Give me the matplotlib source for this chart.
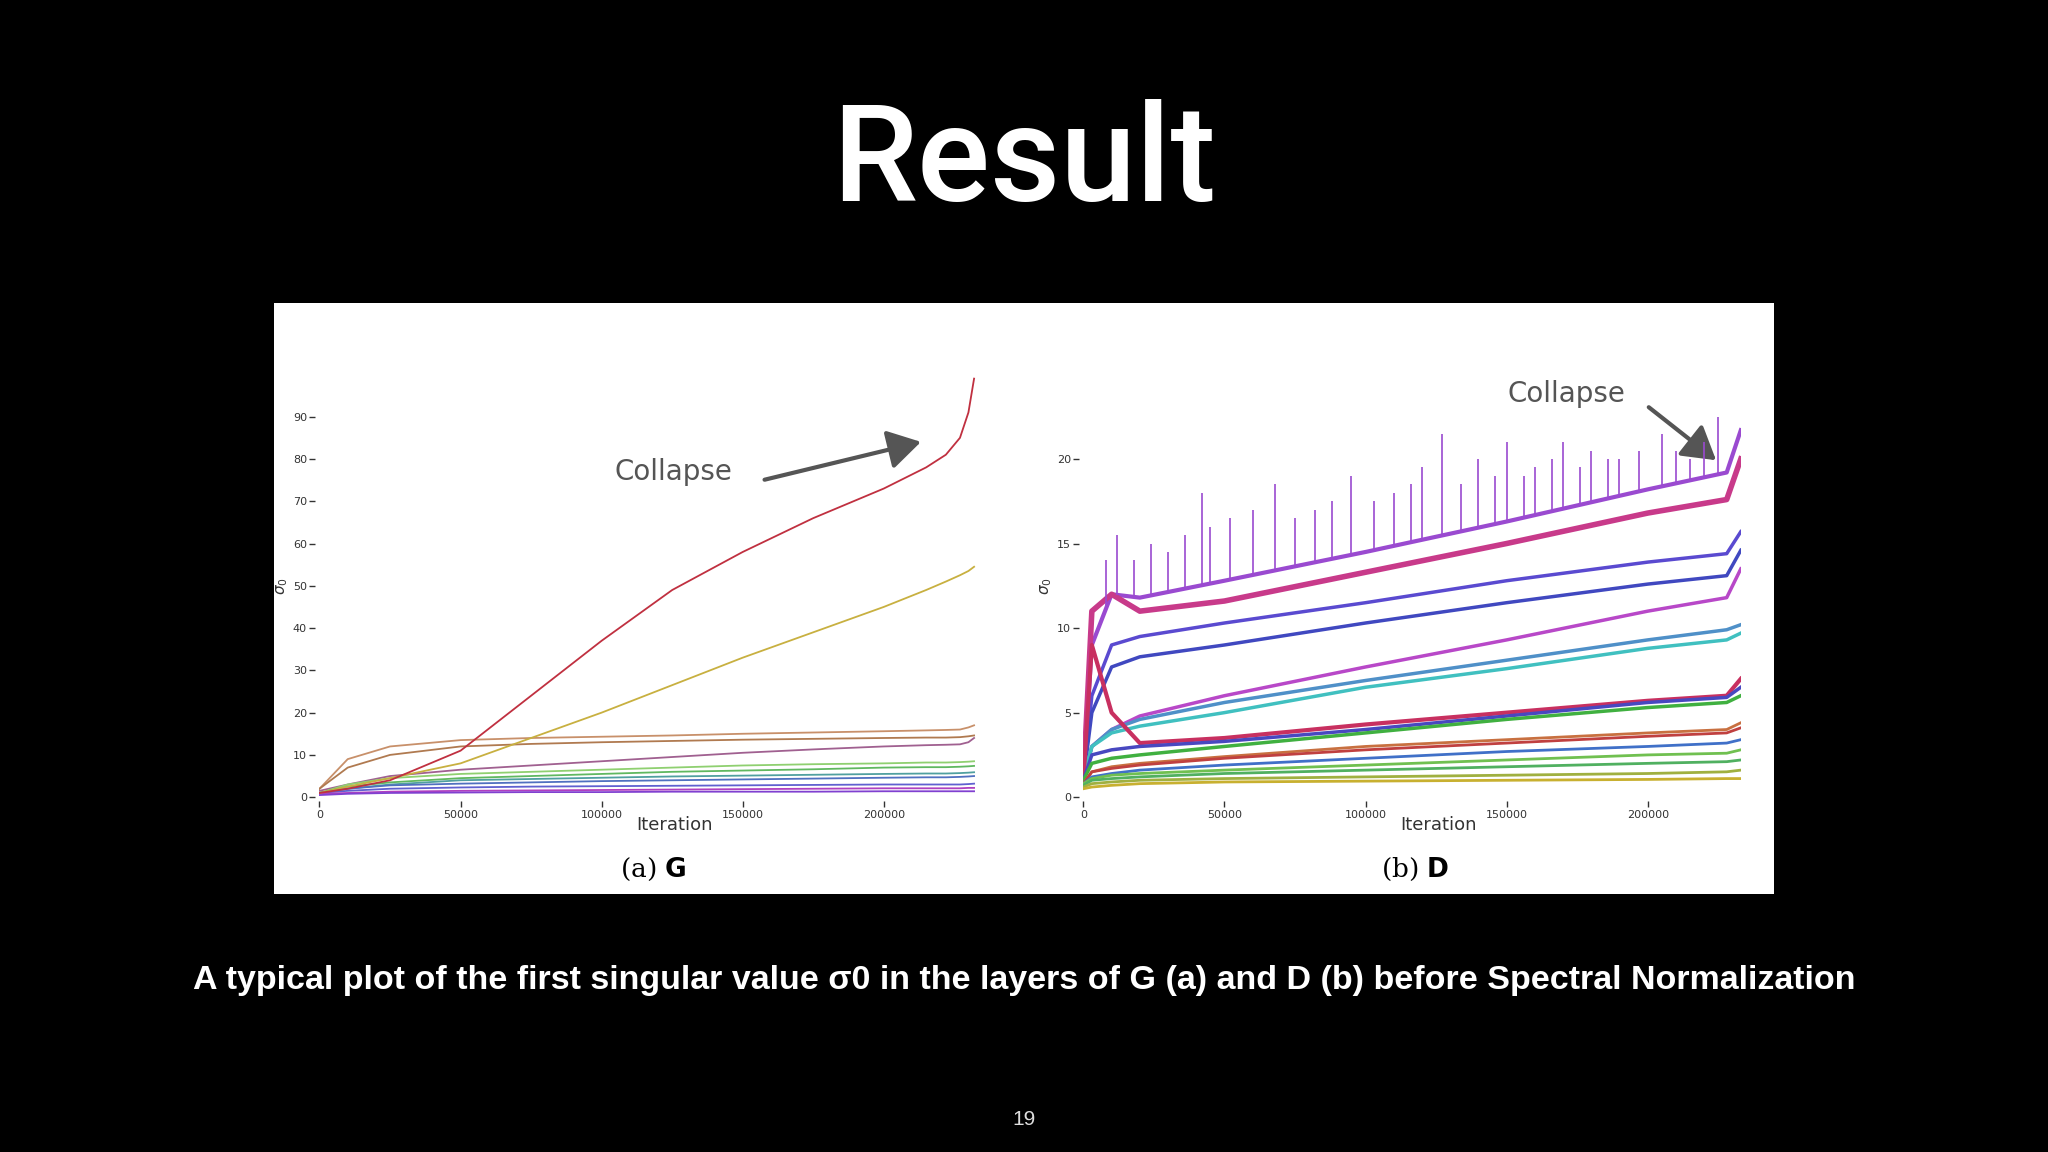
import matplotlib
matplotlib.use("Agg")
import matplotlib.pyplot as plt
import numpy as np
from matplotlib.patches import Rectangle, FancyArrowPatch

# ---------------- data ----------------
g_iter = [0, 10000, 25000, 50000, 75000, 100000, 125000, 150000, 175000, 200000, 215000, 222000, 227000, 230000, 232000]
g_red = [1, 2, 4, 11, 24, 37, 49, 58, 66, 73, 78, 81, 85, 91, 99]
g_olive = [1, 2.5, 4.5, 8, 14, 20, 26.5, 33, 39, 45, 49, 51, 52.5, 53.5, 54.5]
g_others = {
    "#c8906a": [2, 9, 12, 13.5, 14, 14.3, 14.6, 15, 15.3, 15.6, 15.8, 15.9, 16, 16.5, 17],
    "#b07a50": [2, 7, 10, 12, 12.6, 13, 13.3, 13.6, 13.8, 14, 14.1, 14.1, 14.2, 14.4, 14.6],
    "#a06090": [1.5, 3, 5, 6.5, 7.5, 8.5, 9.5, 10.5, 11.3, 12, 12.3, 12.4, 12.5, 13, 14],
    "#8fd070": [1, 3, 4.5, 5.5, 6, 6.5, 7, 7.5, 7.8, 8, 8.2, 8.2, 8.3, 8.4, 8.5],
    "#60b860": [1, 2.5, 3.5, 4.5, 5, 5.5, 6, 6.3, 6.6, 7, 7.1, 7.1, 7.2, 7.3, 7.4],
    "#50a0a0": [1, 2, 3, 4, 4.3, 4.6, 4.9, 5.1, 5.3, 5.5, 5.6, 5.6, 5.7, 5.8, 5.9],
    "#5070c0": [1, 2, 2.8, 3.2, 3.5, 3.8, 4, 4.2, 4.4, 4.6, 4.7, 4.7, 4.8, 4.9, 5],
    "#6060d0": [1, 1.5, 2, 2.3, 2.5, 2.6, 2.7, 2.8, 2.9, 3, 3, 3, 3, 3.1, 3.2],
    "#b040c0": [0.8, 1, 1.3, 1.5, 1.6, 1.7, 1.8, 1.9, 2, 2.1, 2.1, 2.1, 2.1, 2.2, 2.2],
    "#8040d0": [0.5, 0.8, 1, 1.1, 1.2, 1.2, 1.3, 1.3, 1.3, 1.4, 1.4, 1.4, 1.4, 1.4, 1.4],
}

d_iter = [0, 3000, 10000, 20000, 50000, 100000, 150000, 200000, 228000, 233000]
d_series = [
    ("#9a4ad0", 3.0, [1, 9, 12, 11.8, 12.8, 14.5, 16.3, 18.2, 19.2, 21.7]),
    ("#c83a8a", 4.0, [1, 11, 12, 11, 11.6, 13.3, 15, 16.8, 17.6, 20]),
    ("#5a4ad0", 2.5, [1, 6, 9, 9.5, 10.3, 11.5, 12.8, 13.9, 14.4, 15.7]),
    ("#4048c0", 2.5, [1, 5, 7.7, 8.3, 9, 10.3, 11.5, 12.6, 13.1, 14.6]),
    ("#b848c8", 2.5, [1, 3, 4, 4.8, 6, 7.7, 9.3, 11, 11.8, 13.5]),
    ("#4f90c8", 2.5, [1, 3, 4, 4.6, 5.6, 6.9, 8.1, 9.3, 9.9, 10.2]),
    ("#40c0c0", 2.5, [1, 3, 3.8, 4.2, 5, 6.5, 7.6, 8.8, 9.3, 9.7]),
    ("#c83060", 3.0, [1, 9, 5, 3.2, 3.5, 4.3, 5.0, 5.7, 6.0, 7.0]),
    ("#4848c0", 2.5, [1, 2.5, 2.8, 3, 3.3, 4.0, 4.8, 5.6, 5.9, 6.5]),
    ("#40b040", 2.5, [1, 2, 2.3, 2.5, 3.0, 3.8, 4.6, 5.3, 5.6, 6.0]),
    ("#c87040", 2.0, [0.8, 1.5, 1.8, 2, 2.4, 3.0, 3.4, 3.8, 4.0, 4.4]),
    ("#c04040", 2.0, [0.8, 1.5, 1.7, 1.9, 2.3, 2.8, 3.2, 3.6, 3.8, 4.1]),
    ("#4070c8", 2.0, [0.8, 1.2, 1.4, 1.6, 1.9, 2.3, 2.7, 3.0, 3.2, 3.4]),
    ("#70c050", 2.0, [0.8, 1.1, 1.3, 1.4, 1.6, 1.9, 2.2, 2.5, 2.6, 2.8]),
    ("#50b060", 2.0, [0.7, 1.0, 1.1, 1.2, 1.4, 1.6, 1.8, 2.0, 2.1, 2.2]),
    ("#a0b040", 2.0, [0.6, 0.8, 0.9, 1.0, 1.1, 1.2, 1.3, 1.4, 1.5, 1.6]),
    ("#c8b030", 2.0, [0.5, 0.6, 0.7, 0.8, 0.9, 0.95, 1.0, 1.05, 1.1, 1.1]),
]
spike_x = [8000, 12000, 18000, 24000, 30000, 36000, 42000, 45000, 52000, 60000, 68000, 75000, 82000,
           88000, 95000, 103000, 110000, 116000, 120000, 127000, 134000, 140000, 146000, 150000,
           156000, 160000, 166000, 170000, 176000, 180000, 186000, 190000, 197000, 205000, 210000,
           215000, 220000, 225000]
spike_h = [14, 15.5, 14, 15, 14.5, 15.5, 18, 16, 16.5, 17, 18.5, 16.5, 17, 17.5, 19, 17.5, 18,
           18.5, 19.5, 21.5, 18.5, 20, 19, 21, 19, 19.5, 20, 21, 19.5, 20.5, 20, 20, 20.5, 21.5,
           20.5, 20, 21, 22.5]

x_ticks = [0, 50000, 100000, 150000, 200000]

# ---------------- figure ----------------
fig = plt.figure(figsize=(20.48, 11.52), dpi=100, facecolor="black")
fig.patches.append(Rectangle((0.134, 0.224), 0.732, 0.513, transform=fig.transFigure,
                             facecolor="white", edgecolor="none", zorder=-5))

fig.text(0.5, 0.858, "Result", color="white", fontsize=98, ha="center", va="center",
         family=["Roboto", "Liberation Sans"], fontweight="medium")

def style(ax, ymax, yticks):
    ax.set_zorder(2)
    ax.patch.set_alpha(0)
    ax.set_xlim(0, 233000)
    ax.set_ylim(0, ymax)
    ax.set_xticks(x_ticks)
    ax.set_xticklabels([str(t) for t in x_ticks])
    ax.set_yticks(yticks)
    for s in ["top", "right"]:
        ax.spines[s].set_visible(False)
    ax.spines["left"].set_position(("outward", 3))
    ax.spines["bottom"].set_position(("outward", 3))
    ax.spines["left"].set_bounds(0, 0)
    ax.spines["bottom"].set_bounds(0, 0)
    ax.tick_params(labelsize=8, length=4, width=1, pad=2, color="#333333", labelcolor="#333333")
    ax.set_xlabel("Iteration", fontsize=13, color="#333333")
    ax.xaxis.set_label_coords(0.54, -0.045)
    ax.set_ylabel(r"$\sigma_0$", fontsize=11, color="#333333", labelpad=2)

axG = fig.add_axes([0.156, 0.308, 0.321, 0.367])
for c, v in g_others.items():
    axG.plot(g_iter, v, color=c, lw=1.3)
axG.plot(g_iter, g_olive, color="#c8b040", lw=1.3)
axG.plot(g_iter, g_red, color="#c03040", lw=1.3)
style(axG, 100, list(range(0, 100, 10)))

axD = fig.add_axes([0.529, 0.308, 0.321, 0.367])
for c, lw, v in d_series:
    axD.plot(d_iter, v, color=c, lw=lw)
base = np.interp(spike_x, d_iter, d_series[0][2])
axD.vlines(spike_x, base, spike_h, color="#9a4ad0", lw=1.2)
style(axD, 25, [0, 5, 10, 15, 20])

# annotations
fig.text(0.329, 0.590, "Collapse", color="#555555", fontsize=20, ha="center", va="center")
fig.patches.append(FancyArrowPatch((0.372, 0.583), (0.451, 0.617),
                   transform=fig.transFigure, arrowstyle="-|>,head_length=10,head_width=6",
                   color="#555555", lw=3, mutation_scale=2))
fig.text(0.765, 0.658, "Collapse", color="#555555", fontsize=20, ha="center", va="center")
fig.patches.append(FancyArrowPatch((0.804, 0.648), (0.839, 0.599),
                   transform=fig.transFigure, arrowstyle="-|>,head_length=10,head_width=6",
                   color="#555555", lw=3, mutation_scale=2))

fig.text(0.319, 0.245, r"(a) $\mathbf{G}$", fontsize=19, ha="center", va="center",
         family="DejaVu Serif", color="black")
fig.text(0.691, 0.245, r"(b) $\mathbf{D}$", fontsize=19, ha="center", va="center",
         family="DejaVu Serif", color="black")

fig.text(0.5, 0.149, "A typical plot of the first singular value σ0 in the layers of G (a) and D (b) before Spectral Normalization",
         color="white", fontsize=24.5, fontweight="bold", ha="center", va="center", family="Liberation Sans")
fig.text(0.5, 0.028, "19", color="#dddddd", fontsize=15, ha="center", va="center", family="Liberation Sans")

fig.savefig("out.png", dpi=100, facecolor="black")
